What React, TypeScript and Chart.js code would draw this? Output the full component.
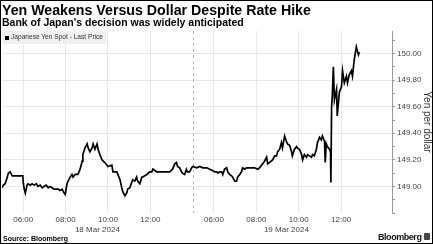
import React, { useEffect, useRef } from "react";
import { Chart, registerables } from "chart.js";

Chart.register(...registerables);

// ---- data ----
const day1Times = [
  "05:00", "05:04", "05:09", "05:15", "05:18", "05:23", "05:29", "05:37", "05:51", "05:59",
  "06:00", "06:03", "06:06", "06:11", "06:14", "06:20", "06:25", "06:31", "06:37", "06:42",
  "06:48", "06:54", "06:59", "07:05", "07:11", "07:16", "07:22", "07:27", "07:33", "07:39",
  "07:44", "07:50", "07:56", "07:59", "08:04", "08:07", "08:13", "08:18", "08:21", "08:27",
  "08:35", "08:41", "08:47", "08:49", "08:55", "09:01", "09:04", "09:09", "09:15", "09:18",
  "09:23", "09:29", "09:32", "09:37", "09:43", "09:51", "10:00", "10:11", "10:14", "10:25",
  "10:34", "10:39", "10:42", "10:48", "10:53", "10:56", "11:02", "11:07", "11:10", "11:16",
  "11:21", "11:24", "11:30", "11:36", "11:38", "11:44", "11:50", "11:58", "12:04", "12:07",
  "12:18", "12:26", "12:35", "12:46", "12:55", "13:03", "13:09", "13:14", "13:17", "13:23",
  "13:28", "13:31", "13:37", "13:42", "13:45", "13:51", "13:57",
];
const day1Prices = [
  148.99, 149.01, 149.02, 149.07, 149.10, 149.11, 149.08, 149.08, 149.08, 149.08,
  149.03, 148.98, 148.95, 149.01, 149.02, 149.01, 149.02, 149.01, 149.02, 149.00,
  149.01, 148.99, 149.00, 149.01, 148.99, 149.00, 148.99, 148.98, 148.98, 148.98,
  148.97, 148.98, 148.95, 148.94, 149.02, 149.04, 149.07, 149.09, 149.07, 149.09,
  149.09, 149.13, 149.19, 149.24, 149.29, 149.32, 149.29, 149.26, 149.29, 149.32,
  149.28, 149.32, 149.28, 149.24, 149.20, 149.18, 149.15, 149.16, 149.11, 149.11,
  149.05, 148.99, 148.96, 148.93, 148.95, 148.98, 148.99, 149.03, 149.05, 149.04,
  149.07, 149.04, 149.02, 149.07, 149.07, 149.08, 149.09, 149.11, 149.11, 149.13,
  149.11, 149.11, 149.11, 149.11, 149.11, 149.13, 149.17, 149.18, 149.15, 149.14,
  149.11, 149.10, 149.09, 149.13, 149.11, 149.11, 149.14,
];
const day2Times = [
  "05:00", "05:11", "05:20", "05:28", "05:40", "05:48", "05:56", "06:02", "06:08", "06:11",
  "06:16", "06:22", "06:25", "06:30", "06:36", "06:39", "06:44", "06:50", "06:53", "06:59",
  "07:04", "07:07", "07:13", "07:18", "07:21", "07:27", "07:32", "07:41", "07:47", "07:55",
  "08:04", "08:09", "08:18", "08:23", "08:29", "08:32", "08:37", "08:46", "08:52", "08:57",
  "09:00", "09:06", "09:11", "09:14", "09:20", "09:25", "09:28", "09:34", "09:40", "09:42",
  "09:48", "09:54", "09:56", "10:02", "10:08", "10:11", "10:16", "10:22", "10:25", "10:30",
  "10:36", "10:39", "10:44", "10:50", "10:53", "10:59", "11:04", "11:07", "11:13", "11:15",
  "11:18", "11:21", "11:27", "11:30", "11:31", "11:33", "11:35", "11:38", "11:41", "11:47",
  "11:49", "11:55", "12:01", "12:04", "12:09", "12:15", "12:18", "12:23", "12:29", "12:32",
  "12:37", "12:43", "12:46", "12:49", "12:52",
];
const day2Prices = [
  149.15, 149.14, 149.15, 149.14, 149.14, 149.13, 149.12, 149.11, 149.11, 149.10,
  149.11, 149.11, 149.09, 149.13, 149.14, 149.11, 149.09, 149.08, 149.07, 149.04,
  149.04, 149.07, 149.09, 149.11, 149.14, 149.13, 149.14, 149.14, 149.14, 149.14,
  149.13, 149.14, 149.17, 149.19, 149.22, 149.17, 149.18, 149.20, 149.23, 149.23,
  149.26, 149.28, 149.33, 149.29, 149.38, 149.34, 149.32, 149.31, 149.26, 149.23,
  149.28, 149.30, 149.29, 149.28, 149.24, 149.20, 149.24, 149.22, 149.24, 149.23,
  149.22, 149.24, 149.23, 149.28, 149.33, 149.37, 149.35, 149.38, 149.34, 149.18,
  149.32, 149.30, 149.28, 149.26, 149.03, 149.60, 149.68, 149.90, 149.65, 149.73,
  149.53, 149.71, 149.75, 149.87, 149.78, 149.83, 149.78, 149.84, 149.87, 149.83,
  149.95, 150.05, 150.02, 149.99, 150.01,
];

const sessionOpen = "05:00";
const sessionHours = 9; // hours of 18 Mar shown (05:00-14:00)
const axisEndDay2 = "14:24";
const xTickTimes = ["06:00", "08:00", "10:00", "12:00"];
const dayLabels = ["18 Mar 2024", "19 Mar 2024"];
const dayLabelTimes = ["09:30", "09:25"];
const yMin = 148.8;
const yMax = 150.17;
const yTickValues = [148.8, 148.9, 149.0, 149.1, 149.2, 149.3, 149.4, 149.5, 149.6, 149.7, 149.8, 149.9, 150.0, 150.1];
const yLabelValues = [149.0, 149.2, 149.4, 149.6, 149.8, 150.0];

const FONT = "'Liberation Sans', Arial, sans-serif";

const toMinutes = (t: string) => {
  const [h, m] = t.split(":").map(Number);
  return h * 60 + m;
};
const toAxis = (day: number, t: string) =>
  day * sessionHours + (toMinutes(t) - toMinutes(sessionOpen)) / 60;
const isLabelled = (v: number) => yLabelValues.some((l) => Math.abs(l - v) < 1e-6);

export default function App() {
  const ref = useRef<HTMLCanvasElement | null>(null);

  useEffect(() => {
    if (!ref.current) return;
    const points = [
      ...day1Times.map((t, i) => ({ x: toAxis(0, t), y: day1Prices[i] })),
      ...day2Times.map((t, i) => ({ x: toAxis(1, t), y: day2Prices[i] })),
    ];
    const xTicks = [0, 1].flatMap((d) => xTickTimes.map((t) => toAxis(d, t)));

    const overlay = {
      id: "overlay",
      beforeDatasetsDraw(chart: any) {
        const { ctx, chartArea, scales } = chart;
        const px = Math.round(scales.x.getPixelForValue(sessionHours)) + 0.5;
        ctx.save();
        ctx.strokeStyle = "#b5b5b5";
        ctx.lineWidth = 1;
        ctx.setLineDash([3, 3]);
        ctx.beginPath();
        ctx.moveTo(px, chartArea.top);
        ctx.lineTo(px, chartArea.bottom);
        ctx.stroke();
        ctx.restore();
      },
      afterDraw(chart: any) {
        const { ctx, scales } = chart;
        ctx.save();
        ctx.fillStyle = "#444";
        ctx.font = `8px ${FONT}`;
        ctx.textAlign = "center";
        ctx.textBaseline = "middle";
        dayLabels.forEach((lab, d) => {
          ctx.fillText(lab, scales.x.getPixelForValue(toAxis(d, dayLabelTimes[d])), 229.5);
        });
        ctx.restore();
      },
    };

    const chart = new Chart(ref.current, {
      type: "line",
      data: {
        datasets: [
          {
            label: "Japanese Yen Spot - Last Price",
            data: points,
            borderColor: "#000",
            borderWidth: 1.7,
            pointRadius: 0,
            tension: 0,
            fill: false,
          },
        ],
      },
      options: {
        animation: false,
        responsive: false,
        maintainAspectRatio: false,
        layout: { padding: { left: 2, top: 31, right: 0, bottom: 0 } },
        plugins: { legend: { display: false }, tooltip: { enabled: false } },
        scales: {
          x: {
            type: "linear",
            min: 0,
            max: toAxis(1, axisEndDay2),
            afterBuildTicks: (s: any) => {
              s.ticks = xTicks.map((v) => ({ value: v }));
            },
            afterFit: (s: any) => {
              s.height = 31;
            },
            grid: { color: "#e8e8e8", lineWidth: 1, drawTicks: false },
            border: { display: false },
            ticks: {
              autoSkip: false,
              maxRotation: 0,
              padding: 2,
              color: "#444",
              font: { size: 8, family: FONT },
              callback: (_v: any, i: number) => xTickTimes[i % xTickTimes.length],
            },
          },
          y: {
            position: "right",
            min: yMin,
            max: yMax,
            afterBuildTicks: (s: any) => {
              s.ticks = yTickValues.map((v) => ({ value: v }));
            },
            afterFit: (s: any) => {
              s.width = 41;
            },
            grid: {
              color: (c: any) => (c.tick && isLabelled(c.tick.value) ? "#e8e8e8" : "rgba(0,0,0,0)"),
              lineWidth: 1,
              drawTicks: true,
              tickLength: 3,
              tickColor: "#999",
            },
            border: { display: true, color: "#999", width: 1 },
            ticks: {
              autoSkip: false,
              padding: 2,
              color: "#444",
              font: { size: 8, family: FONT },
              callback: (v: any) => (isLabelled(Number(v)) ? Number(v).toFixed(2) : ""),
            },
            title: {
              display: true,
              text: "Yen per dollar",
              color: "#333",
              font: { size: 10, family: FONT },
              padding: { top: 0.5, bottom: 0 },
            },
          },
        },
      },
      plugins: [overlay],
    } as any);
    return () => chart.destroy();
  }, []);

  return (
    <div
      style={{
        position: "absolute",
        left: 0,
        top: 0,
        width: 433,
        height: 244,
        background: "#fff",
        fontFamily: FONT,
        overflow: "hidden",
      }}
    >
      <canvas ref={ref} width={433} height={244} style={{ position: "absolute", left: 0, top: 0, width: 433, height: 244 }} />
      <div style={{ position: "absolute", left: 2, top: 3, fontSize: 14.2, lineHeight: "14.2px", fontWeight: 700, color: "#000", whiteSpace: "nowrap" }}>
        Yen Weakens Versus Dollar Despite Rate Hike
      </div>
      <div style={{ position: "absolute", left: 2, top: 16.8, fontSize: 10.5, lineHeight: "10.5px", fontWeight: 700, color: "#000", whiteSpace: "nowrap" }}>
        Bank of Japan's decision was widely anticipated
      </div>
      <div style={{ position: "absolute", left: 2, top: 31, width: 104, height: 13, background: "#f0f0f0" }} />
      <div style={{ position: "absolute", left: 5, top: 35.5, width: 4, height: 4, background: "#000" }} />
      <div style={{ position: "absolute", left: 11, top: 34.4, fontSize: 6.6, lineHeight: "6.6px", color: "#333", whiteSpace: "nowrap" }}>
        Japanese Yen Spot - Last Price
      </div>
      <div style={{ position: "absolute", left: 3, top: 234.8, fontSize: 7, lineHeight: "7px", fontWeight: 700, color: "#000", whiteSpace: "nowrap" }}>
        Source: Bloomberg
      </div>
      <div style={{ position: "absolute", left: 378, top: 232.6, fontSize: 9, lineHeight: "9px", fontWeight: 700, letterSpacing: -0.45, color: "#111", whiteSpace: "nowrap" }}>
        Bloomberg
      </div>
      <div style={{ position: "absolute", left: 424, top: 233, width: 6, height: 7, background: "#444", borderRadius: 1 }} />
      <div style={{ position: "absolute", left: 0, top: 0, width: 433, height: 244, boxSizing: "border-box", border: "1px solid #000", pointerEvents: "none" }} />
    </div>
  );
}
